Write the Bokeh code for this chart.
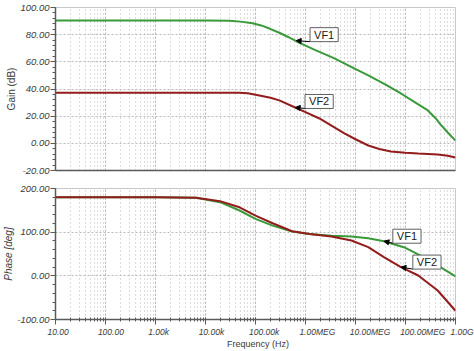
import math
from bokeh.plotting import figure
from bokeh.layouts import column
from bokeh.models import (Label, Arrow, NormalHead, LogTicker, FixedTicker, Range1d,
                          PrintfTickFormatter, CustomJSTickFormatter, ColumnDataSource)
from bokeh.core.properties import value
from bokeh.embed import file_html
from bokeh.resources import INLINE

# ---------------- data ----------------
gain_freq_vf1 = [10, 1e3, 1e4, 3e4, 5e4, 8.7e4, 1.3e5, 1.9e5, 3e5, 4.5e5, 7.4e5, 1.5e6,
                 3.8e6, 8e6, 1.8e7, 4e7, 8.1e7, 1.5e8, 2.8e8, 4e8, 5e8, 7e8, 1e9]
gain_vf1 = [90.5, 90.5, 90.5, 90.2, 89.6, 88.4, 86.8, 84.5, 81.4, 78.3, 74.2, 69.0,
            62.5, 56.5, 50.0, 43.2, 36.7, 30.5, 24.2, 18.5, 14.0, 8.0, 2.0]

gain_freq_vf2 = [10, 1e3, 4.8e4, 7e4, 1.2e5, 2e5, 3e5, 6.2e5, 1e6, 1.9e6, 3.5e6, 6e6,
                 1e7, 1.8e7, 3e7, 5.1e7, 1e8, 1.8e8, 4.4e8, 7e8, 1e9]
gain_vf2 = [37.2, 37.2, 37.2, 36.8, 35.2, 33.5, 31.6, 26.4, 23.0, 18.3, 12.5, 7.3,
            3.0, -1.6, -4.2, -6.0, -7.0, -7.5, -8.2, -9.2, -10.4]

phase_freq_vf1 = [10, 1e3, 6.5e3, 1.95e4, 4.8e4, 1e5, 2.2e5, 5.4e5, 1.2e6, 3.3e6, 8.3e6,
                  1.8e7, 3.7e7, 9.3e7, 2.3e8, 5e8, 1e9]
phase_vf1 = [180, 180, 178.7, 168.7, 149.6, 130.5, 115, 101.5, 96, 91.6, 90,
             86, 79.3, 65.6, 42.7, 20, -1.5]

phase_freq_vf2 = [10, 1e3, 6.5e3, 1.95e4, 4.8e4, 1e5, 2.2e5, 5.4e5, 1.2e6, 3.3e6, 8.3e6,
                  1.8e7, 3.7e7, 8.1e7, 1.8e8, 4.4e8, 1e9]
phase_vf2 = [180, 180, 178.7, 171, 157, 138, 120.5, 102, 96, 90, 81,
             65.6, 42.7, 20, 0.8, -33.6, -80]

x_ticks = [10, 100, 1e3, 1e4, 1e5, 1e6, 1e7, 1e8, 1e9]
x_tick_labels = ["10.00", "100.00", "1.00k", "10.00k", "100.00k", "1.00MEG",
                 "10.00MEG", "100.00MEG", "1.00G"]
gain_ticks = [-20, 0, 20, 40, 60, 80, 100]
phase_ticks = [-100, 0, 100, 200]

# curve markers: (series name, frequency, value on curve)
gain_markers = [("VF1", 6.5e5, 75.6), ("VF2", 6.2e5, 26.4)]
phase_markers = [("VF1", 3.7e7, 79.3), ("VF2", 8.1e7, 20.0)]

# ---------------- styling ----------------
GREEN = "#3a9a3a"
RED = "#931c1c"
FONT = "Liberation Sans"
TXT = "#3a3a3a"
GRID = "#b8b8b8"
W = 474
LEFT = 52
RIGHT = 19
PX_PER_DEC = (W - LEFT - RIGHT) / 8.0

xr = Range1d(10, 1e9)


def style(p, yt, minor_step, title, italic_title):
    p.outline_line_color = "#c8c8c8"
    p.background_fill_color = "white"
    p.border_fill_color = "white"
    p.xaxis.ticker = LogTicker(num_minor_ticks=10)
    p.xgrid.ticker = LogTicker(num_minor_ticks=10)
    p.xgrid.grid_line_color = GRID
    p.xgrid.grid_line_dash = "2 2"
    p.xgrid.minor_grid_line_color = GRID
    p.xgrid.minor_grid_line_dash = "1 3"
    p.ygrid.grid_line_color = GRID
    p.ygrid.grid_line_dash = "2 2"
    mn = []
    v = yt[0]
    while v <= yt[-1] + 1e-9:
        mn.append(v)
        v += minor_step
    p.yaxis.ticker = FixedTicker(ticks=yt, minor_ticks=mn)
    p.yaxis.formatter = PrintfTickFormatter(format="%.2f")
    p.yaxis.major_label_text_font = FONT
    p.yaxis.major_label_text_font_style = "italic"
    p.yaxis.major_label_text_font_size = "9.5px"
    p.yaxis.major_label_text_color = TXT
    p.yaxis.major_label_standoff = 1
    p.yaxis.major_tick_in = 0
    p.yaxis.major_tick_out = 5
    p.yaxis.minor_tick_in = 0
    p.yaxis.minor_tick_out = 3
    p.yaxis.axis_label = title
    p.yaxis.axis_label_standoff = 0
    p.yaxis.axis_label_text_font = FONT
    p.yaxis.axis_label_text_font_size = "10px"
    p.yaxis.axis_label_text_color = TXT
    p.yaxis.axis_label_text_font_style = "italic" if italic_title else "normal"
    for ax in (p.xaxis[0], p.yaxis[0]):
        ax.axis_line_color = "#5a5a5a"
        ax.axis_line_width = 1.5
        ax.major_tick_line_color = "#5a5a5a"
        ax.minor_tick_line_color = "#5a5a5a"
    p.xaxis.formatter = CustomJSTickFormatter(code="return ''")
    p.xaxis.major_label_standoff = 0


def add_markers(p, markers, px_per_unit, dxs, dys):
    for (name, f, v), dx, dy in zip(markers, dxs, dys):
        f_tail = f * 10 ** (dx / PX_PER_DEC)
        v_tail = v + dy / px_per_unit
        p.add_layout(Arrow(end=NormalHead(size=5, fill_color="black", line_color="black"),
                           x_start=f_tail, y_start=v_tail, x_end=f, y_end=v,
                           line_color="black", line_width=1))
        p.add_layout(Label(x=f_tail, y=v_tail, text=name, text_align="left",
                           text_baseline="bottom", text_font=FONT,
                           text_font_size="11px", text_color="#202020",
                           background_fill_color="white",
                           border_line_color="#606060", border_line_width=1,
                           padding=(4, 1)))


# ---------------- gain plot ----------------
p1 = figure(width=W, height=178, x_axis_type="log", x_range=xr, y_range=Range1d(-20, 100),
            output_backend="svg", toolbar_location=None,
            min_border_left=LEFT, min_border_right=RIGHT, min_border_top=7, min_border_bottom=8)
style(p1, gain_ticks, 4, "Gain (dB)", False)
p1.xaxis.major_tick_out = 0
p1.xaxis.minor_tick_out = 0
p1.xaxis.major_tick_in = 0
p1.xaxis.minor_tick_in = 0
p1.line(gain_freq_vf1, gain_vf1, line_color=GREEN, line_width=2)
p1.line(gain_freq_vf2, gain_vf2, line_color=RED, line_width=2)
add_markers(p1, gain_markers, 163 / 120.0, [14, 10], [-1, -1])

# ---------------- phase plot ----------------
p2 = figure(width=W, height=147, x_axis_type="log", x_range=xr, y_range=Range1d(-100, 200),
            output_backend="svg", toolbar_location=None,
            min_border_left=LEFT, min_border_right=RIGHT, min_border_top=10, min_border_bottom=6)
style(p2, phase_ticks, 20, "Phase [deg]", True)
p2.xaxis.major_tick_in = 0
p2.xaxis.major_tick_out = 5
p2.xaxis.minor_tick_in = 2
p2.xaxis.minor_tick_out = 2
p2.line(phase_freq_vf1, phase_vf1, line_color=GREEN, line_width=2)
p2.line(phase_freq_vf2, phase_vf2, line_color=RED, line_width=2)
add_markers(p2, phase_markers, 131 / 300.0, [9, 12], [-2, -2])

# ---------------- frequency labels strip ----------------
H3 = 26
lo = 10 ** (1 - LEFT / PX_PER_DEC)
hi = 10 ** (1 + (W - LEFT) / PX_PER_DEC)
p3 = figure(width=W, height=H3, x_axis_type="log", x_range=Range1d(lo, hi),
            y_range=Range1d(0, H3), output_backend="svg", toolbar_location=None,
            x_axis_location=None, y_axis_location=None, min_border=0,
            min_border_left=0, min_border_right=0, min_border_top=0, min_border_bottom=0)
p3.frame_align = False
p3.outline_line_color = None
p3.grid.visible = False
p3.background_fill_color = "white"
p3.border_fill_color = "white"
src = ColumnDataSource(dict(x=x_ticks, y=[H3 - 6] * len(x_ticks), t=x_tick_labels))
p3.text(x="x", y="y", text="t", source=src, x_offset=-5, text_align="left",
        text_baseline="middle", text_font=value(FONT), text_font_style="italic",
        text_font_size="8.5px", text_color=TXT)
p3.text(x=[1e5], y=[H3 - 18], text=["Frequency (Hz)"], x_offset=4, text_align="center",
        text_baseline="middle", text_font=value(FONT), text_font_size="9px",
        text_color=TXT)

layout = column(p1, p2, p3, spacing=0)
open("out.html", "w").write(file_html(layout, INLINE))
